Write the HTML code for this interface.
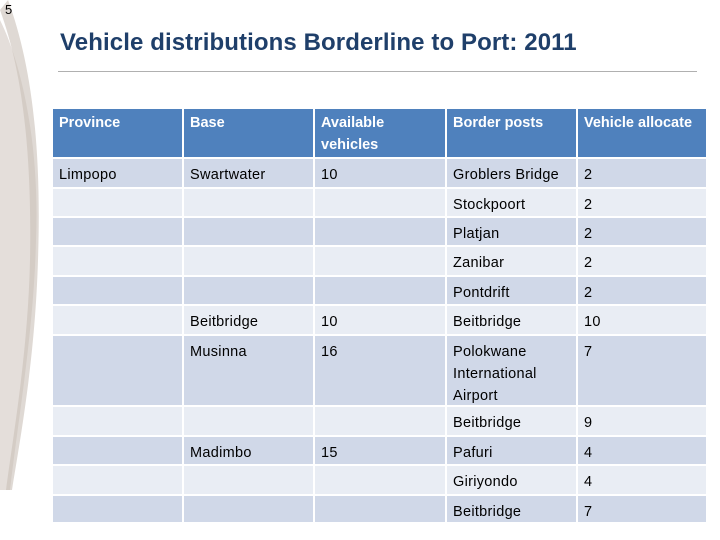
<!DOCTYPE html>
<html><head><meta charset="utf-8"><style>
body{margin:0;width:720px;height:540px;background:#fff;position:relative;overflow:hidden;font-family:"Liberation Sans",sans-serif}
.c{position:absolute;box-sizing:border-box;padding:5px 6px;font-size:14.5px;line-height:22px;color:#000;letter-spacing:0.3px}
.h{background:#4f81bd;color:#fff;font-weight:bold}
.d{background:#d0d8e8}.l{background:#e9edf4}
</style></head><body>
<svg style="position:absolute;left:0;top:0" width="60" height="540">
<path d="M0,20 C20,60 40,140 36,240 C34,330 18,420 10,490 L0,490 Z" fill="#ddd6d1" opacity="0.8"/>
<path d="M8,0 C30,60 42,140 38,260 C35,360 20,440 12,490 L6,490 C14,430 28,350 30,260 C32,150 22,70 0,10 Z" fill="#c9bfb8" opacity="0.6"/>
</svg>
<div style="position:absolute;left:5px;top:2px;font-size:13px;color:#000">5</div>
<div style="position:absolute;left:60px;top:29px;font-size:24px;font-weight:bold;color:#1f3f6a;white-space:nowrap;letter-spacing:0.1px">Vehicle distributions Borderline to Port: 2011</div>
<div style="position:absolute;left:58px;top:71px;width:639px;height:1px;background:#b0b0b0"></div>
<div id="t"></div>
<script>
var cols=[53,184,315,447,578,708];
var rows=[109,159,189,218,247,277,306,336,407,437,466,496,524];
var cells=[
["Province","Base","Available vehicles","Border posts","Vehicle allocate"],
["Limpopo","Swartwater","10","Groblers Bridge","2"],
["","","","Stockpoort","2"],
["","","","Platjan","2"],
["","","","Zanibar","2"],
["","","","Pontdrift","2"],
["","Beitbridge","10","Beitbridge","10"],
["","Musinna","16","Polokwane International Airport","7"],
["","","","Beitbridge","9"],
["","Madimbo","15","Pafuri","4"],
["","","","Giriyondo","4"],
["","","","Beitbridge","7"]];
var t=document.getElementById('t');
for(var r=0;r<cells.length;r++)for(var c=0;c<5;c++){
var e=document.createElement('div');


e.className='c '+(r==0?'h':(r%2?'d':'l'));
e.style.left=cols[c]+'px';e.style.top=rows[r]+'px';
e.style.width=(cols[c+1]-cols[c]-2)+'px';e.style.height=(rows[r+1]-rows[r]-2)+'px';
if(r==0){e.style.paddingTop='3px';e.style.letterSpacing='0px';}
e.textContent=cells[r][c];t.appendChild(e);}
</script>
</body></html>
